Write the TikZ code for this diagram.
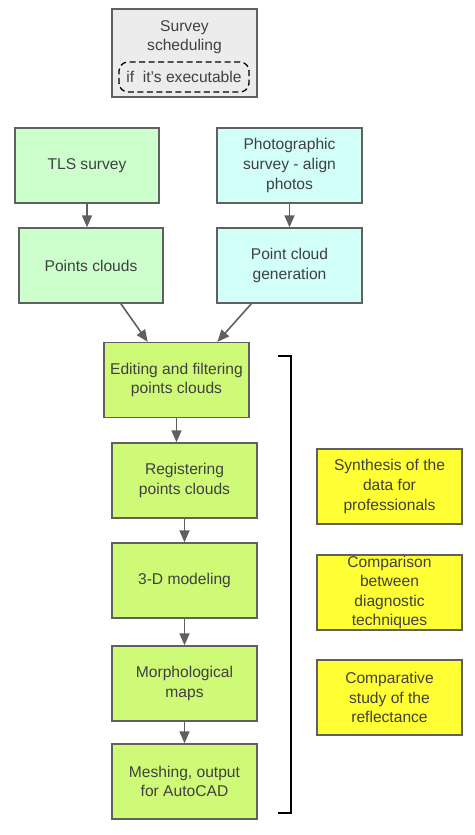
\documentclass[tikz,border=0pt]{standalone}
\usepackage{fontspec}
\setmainfont{Liberation Sans}
\usepackage{tikz}
\usetikzlibrary{positioning}
\usetikzlibrary{arrows.meta}
\usetikzlibrary{shapes}

\definecolor{boxline}{HTML}{606060}
\definecolor{boxtext}{HTML}{404040}
\definecolor{schedfill}{HTML}{ECECEC}
\definecolor{tlsfill}{HTML}{CCFFCC}
\definecolor{photofill}{HTML}{D2FFF8}
\definecolor{procfill}{HTML}{CFFA77}
\definecolor{outfill}{HTML}{FFFF33}

\tikzset{
	stepbox/.style={rectangle, draw=boxline, line width=1.3pt, text=boxtext, align=center, minimum width=145pt, minimum height=75pt, inner sep=0pt, font=\fontsize{15.6}{19.6}\selectfont},
	arr/.style={draw=boxline, line width=1.6pt, -{Triangle[width=10pt,length=12pt]}}
}

\begin{document}
\begin{tikzpicture}[x=1pt, y=-1pt]
	\useasboundingbox (0,0) rectangle (474,835);

	\node[stepbox, fill=schedfill, minimum height=88pt](sched) at (184.5,53){};
	\node[text=boxtext, align=center, font=\fontsize{15.6}{19.6}\selectfont](schedText) at (184.5,37){Survey\\scheduling};
	\node[rectangle, draw=black, dash pattern=on 6pt off 3.5pt, line width=1.3pt, rounded corners=9pt, minimum width=130pt, minimum height=30pt, inner sep=0pt, text=boxtext, font=\fontsize{15.6}{19.6}\selectfont](schedIf) at (184,77){if\ \ it's executable};

	\node[stepbox, fill=tlsfill, minimum width=144pt](tls) at (87,165.5){TLS survey};
	\node[stepbox, fill=photofill](photo) at (289.5,165.5){Photographic\\survey - align\\photos};
	\node[stepbox, fill=tlsfill, minimum width=144pt](ptsClouds) at (91,265.5){Points clouds};
	\node[stepbox, fill=photofill](cloudGen) at (289.5,265.5){Point cloud\\generation};

	\node[stepbox, fill=procfill](editing) at (176.5,380){Editing and filtering\\points clouds};
	\node[stepbox, fill=procfill](registering) at (184.5,480.5){Registering\\points clouds};
	\node[stepbox, fill=procfill](modeling) at (184.5,580.5){3-D modeling};
	\node[stepbox, fill=procfill](morph) at (184.5,683.5){Morphological\\maps};
	\node[stepbox, fill=procfill](meshing) at (184.5,781.5){Meshing, output\\for AutoCAD};

	\node[stepbox, fill=outfill](synthesis) at (389.5,486.5){Synthesis of the\\data for\\professionals};
	\node[stepbox, fill=outfill](comparison) at (389.5,592.5){Comparison\\between\\diagnostic\\techniques};
	\node[stepbox, fill=outfill](reflectance) at (389.5,697.5){Comparative\\study of the\\reflectance};

	\draw[arr](tls.south) -- (tls.south |- ptsClouds.north);
	\draw[arr](photo.south) -- (photo.south |- cloudGen.north);
	\draw[arr](ptsClouds.-52) -- (editing.127);
	\draw[arr](cloudGen.-135) -- (editing.43);
	\draw[arr](editing.south) -- (editing.south |- registering.north);
	\draw[arr](registering) -- (modeling);
	\draw[arr](modeling) -- (morph);
	\draw[arr](morph) -- (meshing);

	\coordinate(bracketTop) at (278,356);
	\coordinate(bracketBtm) at (278,813);
	\draw[line width=1.5pt](bracketTop) -- ++(13,0) |- (bracketBtm);

\end{tikzpicture}
\end{document}
